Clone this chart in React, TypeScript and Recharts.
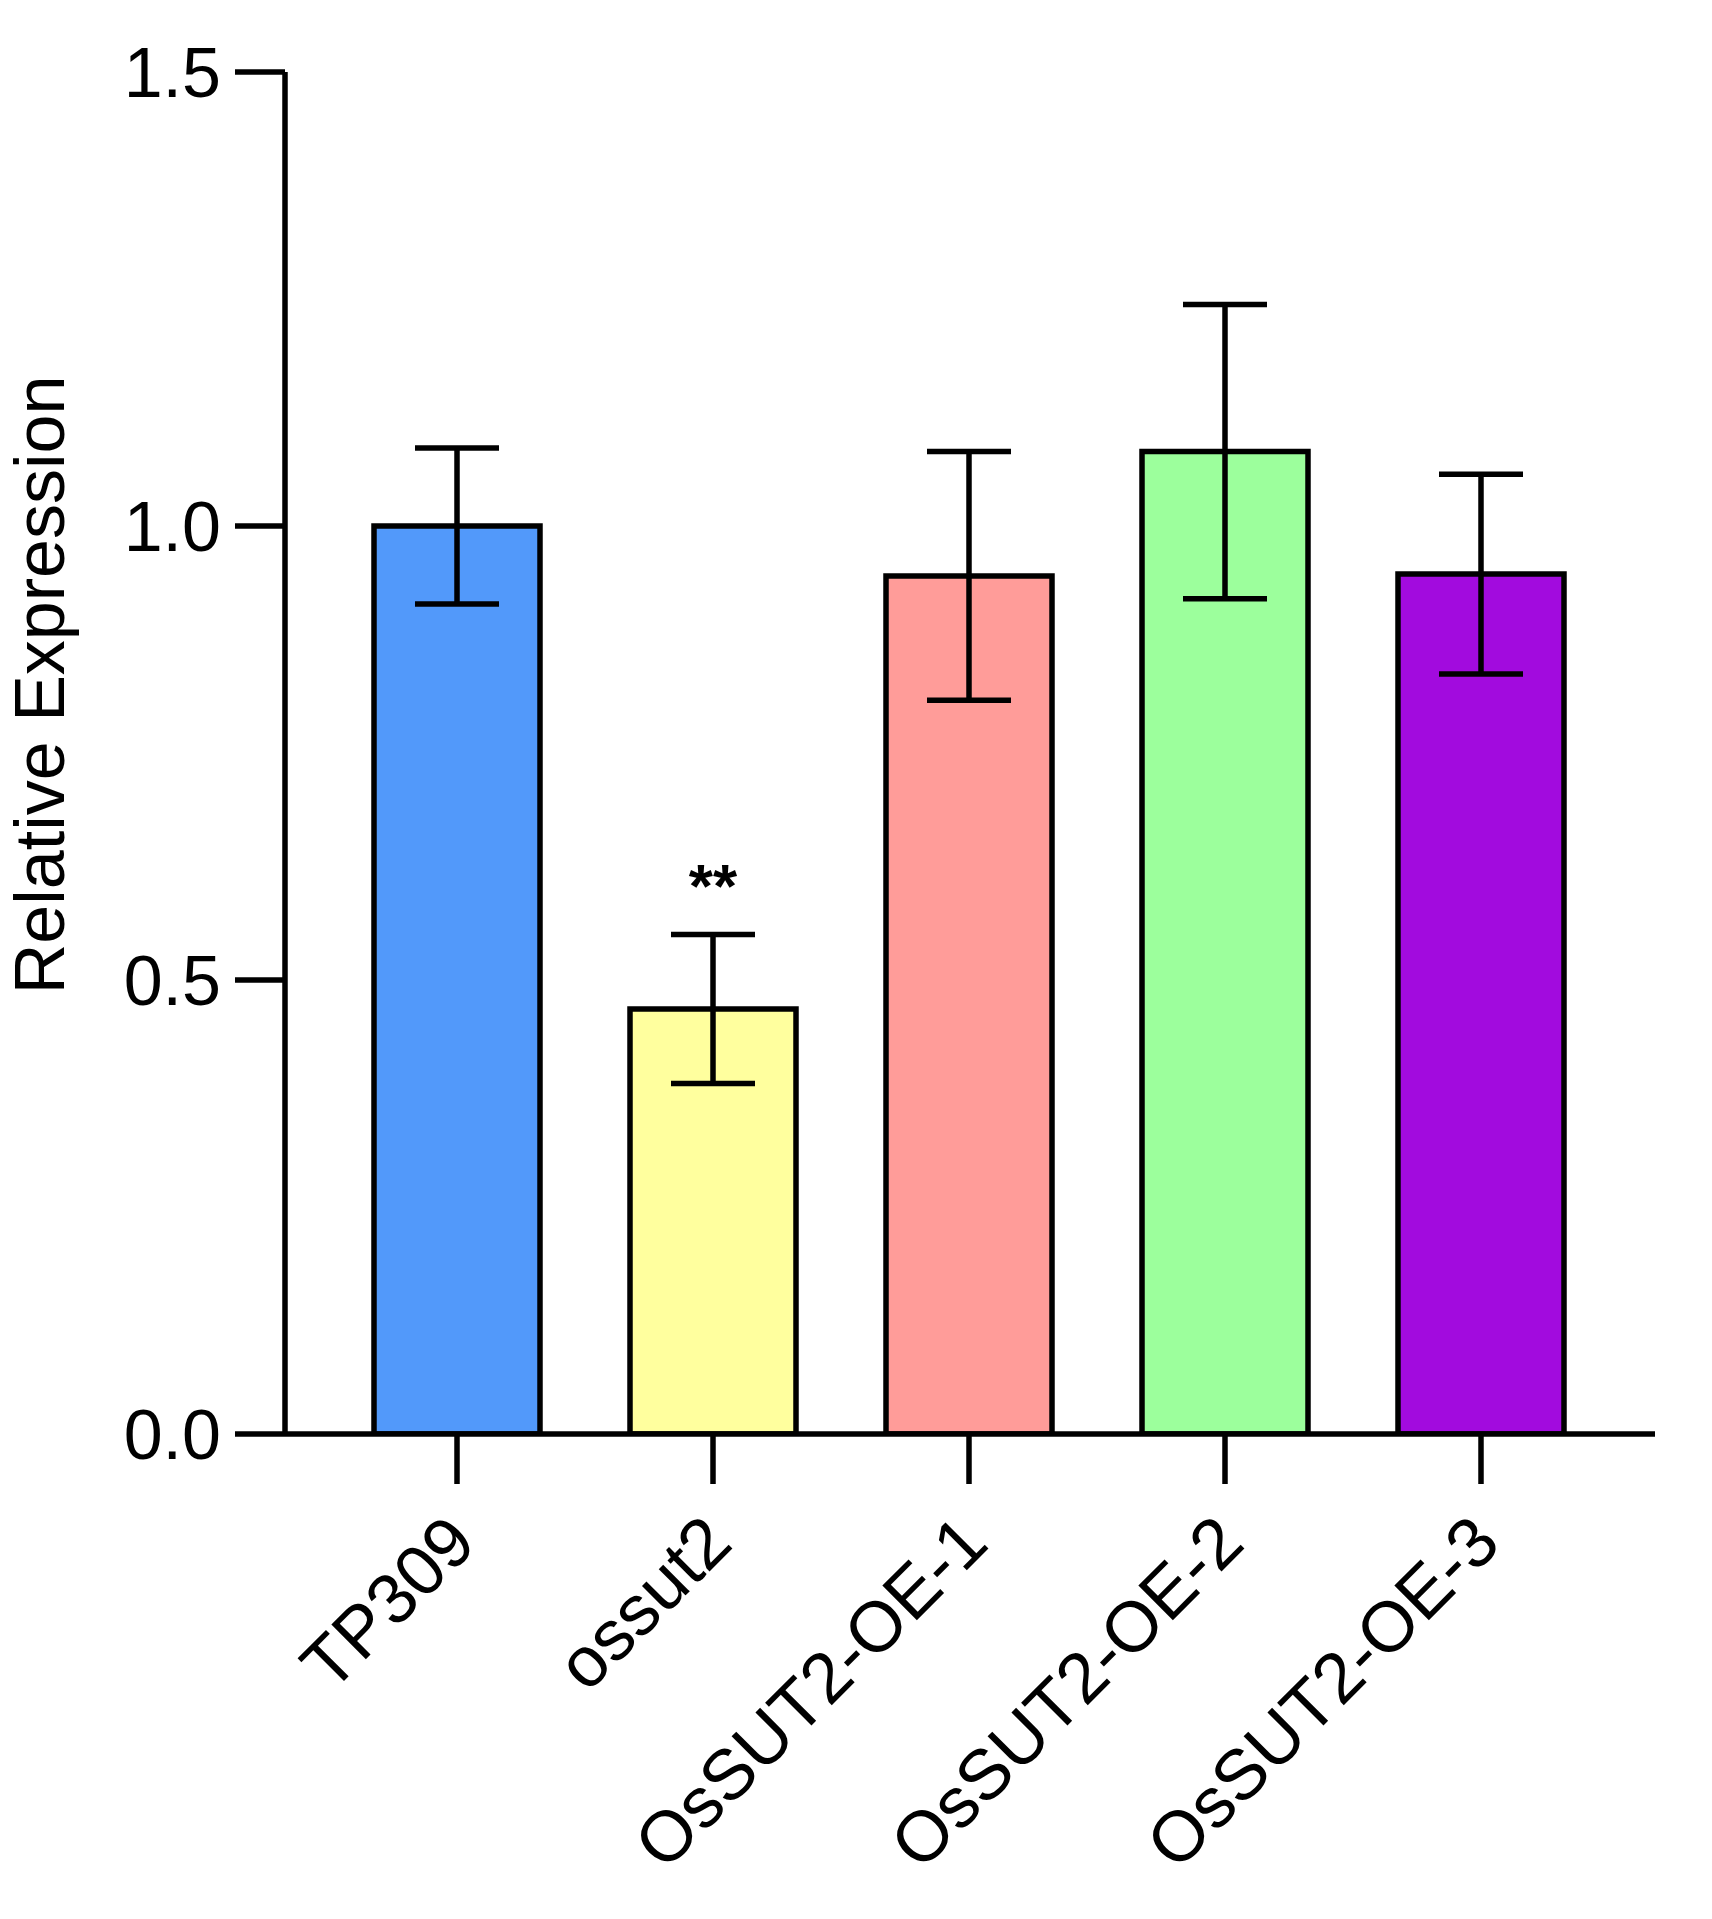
import React from 'react';
import { BarChart, Bar, XAxis, YAxis, ErrorBar, Cell, LabelList, Label } from 'recharts';

const FONT = '"Liberation Sans", Arial, Helvetica, sans-serif';

const categories = ['TP309', 'ossut2', 'OsSUT2-OE-1', 'OsSUT2-OE-2', 'OsSUT2-OE-3'];
const means = [1.0, 0.468, 0.945, 1.082, 0.947];
const errors = [0.086, 0.082, 0.137, 0.162, 0.11];
const significance = ['', '**', '', '', ''];
const barColors = ['#5299FA', '#FFFF9E', '#FF9C99', '#9CFF9C', '#A20BDE'];
const yTicks = [0, 0.5, 1.0, 1.5];
const yLabel = 'Relative Expression';

const data = categories.map((name, i) => ({
  name,
  value: means[i],
  err: errors[i],
  sig: significance[i],
}));

const XTick = (props: any) => {
  const { x, y, payload } = props;
  return (
    <text
      x={0}
      y={0}
      transform={`translate(${x + 22}, ${y + 60}) rotate(-45)`}
      textAnchor="end"
      fontSize={71}
      fontFamily={FONT}
      fill="#000"
    >
      {payload.value}
    </text>
  );
};

const SigLabel = (props: any) => {
  const { x, y, width, height, index, value } = props;
  if (!value) return null;
  const pxPerUnit = height / means[index];
  const errTop = y - errors[index] * pxPerUnit;
  return (
    <text
      x={x + width / 2}
      y={errTop - 28}
      textAnchor="middle"
      fontSize={62}
      fontWeight="bold"
      fontFamily={FONT}
      fill="#000"
    >
      {value}
    </text>
  );
};

const YLabel = (props: any) => {
  const vb = props.viewBox || { x: 0, y: 72, width: 285, height: 1362 };
  return (
    <text
      x={0}
      y={0}
      transform={`translate(${vb.x + 64}, ${vb.y + vb.height * 0.45}) rotate(-90)`}
      textAnchor="middle"
      fontSize={70}
      fontFamily={FONT}
      fill="#000"
    >
      {yLabel}
    </text>
  );
};

export default function App() {
  return (
    <div style={{ position: 'absolute', left: 0, top: 0, width: 1712, height: 1919, background: '#fff' }}>
      <BarChart
        width={1712}
        height={1919}
        data={data}
        margin={{ top: 72, right: 57, left: 0, bottom: 0 }}
      >
        <XAxis
          dataKey="name"
          height={485}
          padding={{ left: 44, right: 46 }}
          axisLine={{ stroke: '#000', strokeWidth: 5.5 }}
          tickLine={{ stroke: '#000', strokeWidth: 5.5 }}
          tickSize={50}
          tick={<XTick />}
          interval={0}
        />
        <YAxis
          width={285}
          domain={[0, 1.5]}
          ticks={yTicks}
          tickFormatter={(v: number) => v.toFixed(1)}
          axisLine={{ stroke: '#000', strokeWidth: 5.5 }}
          tickLine={{ stroke: '#000', strokeWidth: 5.5 }}
          tickSize={50}
          tickMargin={14}
          tick={{ fontSize: 70, fontFamily: FONT, fill: '#000' }}
          allowDataOverflow
        >
          <Label content={<YLabel />} />
        </YAxis>
        <Bar dataKey="value" barSize={166} stroke="#000" strokeWidth={5.5} isAnimationActive={false}>
          {data.map((d, i) => (
            <Cell key={d.name} fill={barColors[i]} />
          ))}
          <ErrorBar dataKey="err" direction="y" width={42} stroke="#000" strokeWidth={5.5} isAnimationActive={false} />
          <LabelList dataKey="sig" content={<SigLabel />} />
        </Bar>
      </BarChart>
    </div>
  );
}
